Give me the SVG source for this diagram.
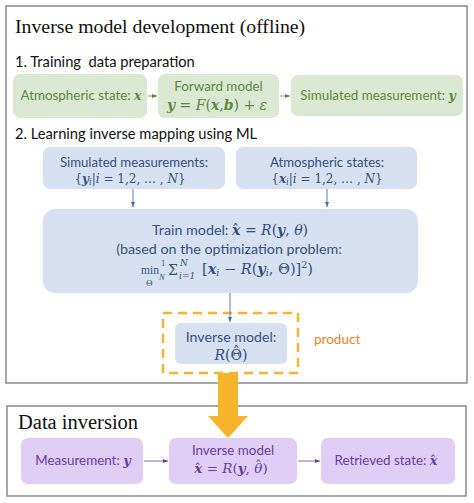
<svg xmlns="http://www.w3.org/2000/svg" width="474" height="503" viewBox="0 0 474 503">
<defs>
<style>
.frame{fill:#fff;stroke:#8a8a8a;stroke-width:1.5}
.title{font-family:"Liberation Serif",serif;font-size:19.8px;fill:#111}
.sec{font-family:Lato,"Liberation Sans",sans-serif;font-size:14.7px;fill:#111}
.g{fill:#dae8d3}
.b{fill:#d7e0f1}
.p{fill:#dfcdf6}
.gt{font-family:Lato,"Liberation Sans",sans-serif;font-size:13.4px;fill:#5b8a3c;text-anchor:middle}
.bt{font-family:Lato,"Liberation Sans",sans-serif;font-size:13.2px;fill:#34507f;text-anchor:middle}
.pt{font-family:Lato,"Liberation Sans",sans-serif;font-size:13.4px;fill:#6a3c9c;text-anchor:middle}
.m{font-family:"DejaVu Serif",serif;font-style:italic}
.mb{font-family:"DejaVu Serif",serif;font-style:italic;font-weight:bold}
.mr{font-family:"DejaVu Serif",serif}
.ls{font-family:"Liberation Serif",serif}
.ga{stroke:#5b8a3c;stroke-width:0.8;fill:none}
.ba{stroke:#4a6fae;stroke-width:0.9;fill:none}
.pa{stroke:#6a3c9c;stroke-width:0.8;fill:none}
</style>
<marker id="ahg" markerWidth="6" markerHeight="6" refX="5" refY="3" orient="auto" markerUnits="userSpaceOnUse"><path d="M0,1 L5,3 L0,5 z" fill="#5b8a3c"/></marker>
<marker id="ahb" markerWidth="6" markerHeight="6" refX="5" refY="3" orient="auto" markerUnits="userSpaceOnUse"><path d="M0,1 L5,3 L0,5 z" fill="#4a6fae"/></marker>
<marker id="ahp" markerWidth="6" markerHeight="6" refX="5" refY="3" orient="auto" markerUnits="userSpaceOnUse"><path d="M0,1 L5,3 L0,5 z" fill="#6a3c9c"/></marker>
</defs>
<rect width="474" height="503" fill="#fff"/>

<rect class="frame" x="6" y="6" width="461" height="377"/>
<text class="title" x="15" y="33">Inverse model development (offline)</text>
<text class="sec" x="15" y="67">1. Training&#160; data preparation</text>
<text class="sec" x="15" y="139">2. Learning inverse mapping using ML</text>

<rect class="frame" x="7" y="406" width="459" height="90"/>
<text class="title" x="18" y="429" style="font-size:20.5px">Data inversion</text>

<g id="atm-state">
<rect class="g" x="13" y="74" width="134" height="44" rx="7"/>
<text class="gt" x="81" y="100">Atmospheric state: <tspan class="mb" style="font-size:12.5px">x</tspan></text>
</g>
<g id="forward-model">
<rect class="g" x="158" y="74" width="121" height="44" rx="7"/>
<text class="gt" x="218.5" y="91">Forward model</text>
<text class="gt" x="217" y="110" style="font-size:14px"><tspan class="mb">y</tspan><tspan class="mr"> = </tspan><tspan class="m">F</tspan><tspan class="mr">(</tspan><tspan class="mb">x</tspan><tspan class="mr">,</tspan><tspan class="mb">b</tspan><tspan class="mr">) + </tspan><tspan class="m">ε</tspan></text>
</g>
<g id="sim-measurement">
<rect class="g" x="291" y="75" width="172" height="41" rx="7"/>
<text class="gt" x="378" y="100">Simulated measurement: <tspan class="mb" style="font-size:12.5px">y</tspan></text>
</g>

<g id="sim-measurements">
<rect class="b" x="43" y="147" width="182" height="42" rx="7"/>
<text class="bt" x="134" y="167">Simulated measurements:</text>
<text class="bt" x="130" y="183" style="font-size:12px"><tspan class="mr">{</tspan><tspan class="mb">y</tspan><tspan class="m" style="font-size:8.5px" dy="2">i</tspan><tspan class="mr" dy="-2">|</tspan><tspan class="m">i</tspan><tspan class="mr"> = 1,2, … , </tspan><tspan class="m">N</tspan><tspan class="mr">}</tspan></text>
</g>
<g id="atm-states">
<rect class="b" x="236" y="147" width="181" height="42" rx="7"/>
<text class="bt" x="327" y="167">Atmospheric states:</text>
<text class="bt" x="327" y="183" style="font-size:12px"><tspan class="mr">{</tspan><tspan class="mb">x</tspan><tspan class="m" style="font-size:8.5px" dy="2">i</tspan><tspan class="mr" dy="-2">|</tspan><tspan class="m">i</tspan><tspan class="mr"> = 1,2, … , </tspan><tspan class="m">N</tspan><tspan class="mr">}</tspan></text>
</g>

<g id="train-model">
<rect class="b" x="43" y="209" width="375" height="84" rx="12"/>
<text class="bt" x="230" y="235" style="font-size:14.3px">Train model: <tspan class="mb" style="font-size:14px">x</tspan><tspan class="mr" style="font-size:14px" dx="-8.4">ˆ</tspan><tspan class="mr" style="font-size:14px" dx="1.4"> = </tspan><tspan class="m" style="font-size:14px">R</tspan><tspan class="mr" style="font-size:14px">(</tspan><tspan class="mb" style="font-size:14px">y</tspan><tspan class="mr" style="font-size:14px">, </tspan><tspan class="m" style="font-size:14px">θ</tspan><tspan class="mr" style="font-size:14px">)</tspan></text>
<text class="bt" x="229" y="254" style="font-size:14.3px">(based on the optimization problem:</text>
<g fill="#34507f">
<text class="ls" x="141" y="274" font-size="11.5">min</text>
<text class="ls" x="146" y="286" font-size="9">Θ</text>
<text class="ls" x="161" y="266" font-size="8.5">1</text>
<text class="ls" x="159" y="280" font-size="8.5" font-style="italic">N</text>
<text class="mr" x="168" y="275" font-size="14">Σ</text>
<text class="m" x="180" y="266" font-size="9">N</text>
<text class="m" x="179" y="279" font-size="9">i<tspan class="mr">=1</tspan></text>
<text class="mr" x="202" y="274" font-size="14.5">[<tspan class="mb">x</tspan><tspan class="m" font-size="9.5" dy="2">i</tspan><tspan dy="-2"> − </tspan><tspan class="m">R</tspan>(<tspan class="mb">y</tspan><tspan class="m" font-size="9.5" dy="2">i</tspan><tspan dy="-2">, Θ)]</tspan><tspan font-size="9.5" dy="-6">2</tspan><tspan dy="6">)</tspan></text>
</g>
</g>

<g id="product">
<rect x="163" y="313" width="135" height="60" fill="none" stroke="#f5b531" stroke-width="2.5" stroke-dasharray="9,6"/>
<text x="314" y="344" font-family="Lato,'Liberation Sans',sans-serif" font-size="13.5" fill="#e8832c">product</text>
</g>
<g id="inverse-model">
<rect class="b" x="175" y="323" width="112" height="41" rx="6"/>
<text class="bt" x="231" y="342" style="font-size:14.2px">Inverse model:</text>
<text class="bt" x="231" y="360" style="font-size:14px"><tspan class="m">R</tspan><tspan class="mr">(Θ</tspan><tspan class="mr" dx="-9.2" dy="-3.5">ˆ</tspan><tspan class="mr" dx="2.2" dy="3.5">)</tspan></text>
</g>

<g id="big-arrow">
<path d="M218,373 H238 V416 H248 L228,438 L208,416 H218 Z" fill="#f5b42a"/>
</g>

<g id="measurement">
<rect class="p" x="21" y="438" width="122" height="46" rx="7"/>
<text class="pt" x="83" y="465">Measurement: <tspan class="mb" style="font-size:13px">y</tspan></text>
</g>
<g id="inverse-model-apply">
<rect class="p" x="169" y="438" width="128" height="46" rx="7"/>
<text class="pt" x="233" y="455">Inverse model</text>
<text class="pt" x="231" y="473" style="font-size:13.5px"><tspan class="mb">x</tspan><tspan class="mr" dx="-8.1">ˆ</tspan><tspan class="mr" dx="1.3"> = </tspan><tspan class="m">R</tspan><tspan class="mr">(</tspan><tspan class="mb">y</tspan><tspan class="mr">, </tspan><tspan class="m">θ</tspan><tspan class="mr" dx="-7.4" dy="-3.5">ˆ</tspan><tspan class="mr" dx="0.7" dy="3.5">)</tspan></text>
</g>
<g id="retrieved-state">
<rect class="p" x="321" y="438" width="134" height="46" rx="7"/>
<text class="pt" x="386" y="465">Retrieved state: <tspan class="mb" style="font-size:13px">x</tspan><tspan class="mr" style="font-size:13px" dx="-7.8">ˆ</tspan></text>
</g>

<g id="connectors">
<line class="ga" x1="148" y1="96" x2="157" y2="96" marker-end="url(#ahg)"/>
<line class="ga" x1="280" y1="96" x2="290" y2="96" marker-end="url(#ahg)"/>
<line class="ba" x1="133" y1="189" x2="133" y2="207" marker-end="url(#ahb)"/>
<line class="ba" x1="327" y1="189" x2="327" y2="207" marker-end="url(#ahb)"/>
<line class="ba" x1="230" y1="293" x2="230" y2="322" marker-end="url(#ahb)"/>
<line class="pa" x1="144" y1="461" x2="168" y2="461" marker-end="url(#ahp)"/>
<line class="pa" x1="298" y1="461" x2="320" y2="461" marker-end="url(#ahp)"/>
</g>
</svg>
